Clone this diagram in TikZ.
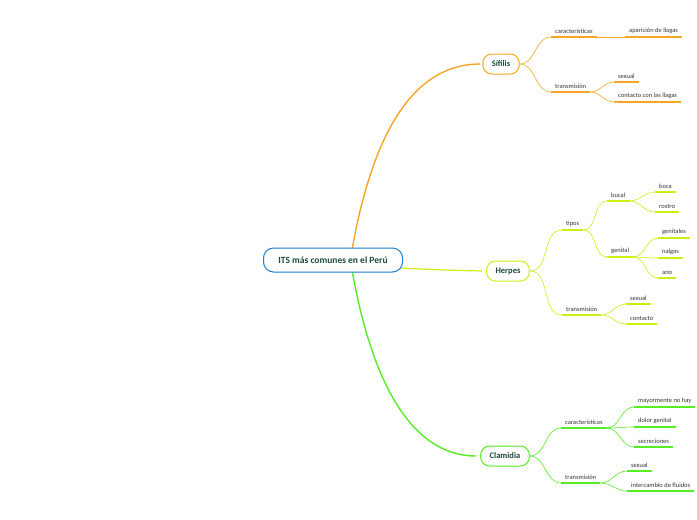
\documentclass[tikz,border=0pt]{standalone}
\usepackage{fontspec}
\setmainfont{Carlito}
\definecolor{cor}{HTML}{F5A623}
\definecolor{cye}{HTML}{CCEE11}
\definecolor{cgr}{HTML}{55EE22}
\definecolor{cbl}{HTML}{1A7FD0}
\definecolor{ctx}{HTML}{1E4A3C}
\tikzset{
 main/.style={draw, rounded corners=10pt, line width=1pt, fill=white, text=ctx, font=\fontsize{9.5}{12}\selectfont\bfseries, minimum height=24pt, inner xsep=10pt},
 topic/.style={draw, rounded corners=9pt, line width=1pt, fill=white, text=ctx, font=\fontsize{8.5}{10}\selectfont\bfseries, minimum height=20pt, inner xsep=9pt},
 leaf/.style={anchor=south west, inner xsep=4pt, inner ysep=3pt, font=\fontsize{6.5}{7}\selectfont, text=black!80},
 ul/.style={line width=1.5pt},
 br/.style={line width=0.6pt},
}
\newcommand{\leafn}[5]{% name, x, y, text, color
 \node[leaf] (#1) at (#2,#3) {#4};
 \draw[ul,#5] (#1.south west) -- (#1.south east);}
\begin{document}
\begin{tikzpicture}[x=1pt,y=-1pt]
\useasboundingbox (0,0) rectangle (697,520);
% connectors from center
\draw[cor,line width=1.4pt] (352,250) .. controls (375,120) and (420,64) .. (480,64);
\draw[cgr,line width=1.4pt] (352,270) .. controls (375,400) and (420,456) .. (476,456);
\draw[cye,line width=1.2pt] (400,268) .. controls (440,270) .. (482,271);
\node[main, draw=cbl, minimum width=139pt] (c) at (333,260) {ITS más comunes en el Perú};
\node[topic, draw=cor] (s) at (501,64) {Sífilis};
\node[topic, draw=cye] (h) at (508,271) {Herpes};
\node[topic, draw=cgr] (k) at (505,456) {Clamidia};
% Sifilis
\leafn{s1}{551}{37}{características}{cor}
\leafn{s11}{625}{37}{aparición de llagas\hspace{10pt}}{cor}
\leafn{s2}{551}{92}{transmisión\hspace{6pt}}{cor}
\leafn{s21}{614}{82}{sexual\hspace{6pt}}{cor}
\leafn{s22}{614}{102}{contacto con las llagas}{cor}
\foreach \a/\b in {s.east/s1.south west, s.east/s2.south west}
 \draw[br,cor] (\a) to[out=0,in=180] (\b);
\draw[br,cor] (s1.south east) -- (s11.south west);
\foreach \b in {s21,s22} \draw[br,cor] (s2.south east) to[out=0,in=180] (\b.south west);
% Herpes
\leafn{h1}{562}{230}{tipos\hspace{4pt}}{cye}
\leafn{h2}{562}{315}{transmisión\hspace{4pt}}{cye}
\leafn{h11}{607}{201}{bucal\hspace{6pt}}{cye}
\leafn{h12}{607}{257}{genital\hspace{6pt}}{cye}
\leafn{h111}{655}{192}{boca\hspace{4pt}}{cye}
\leafn{h112}{655}{212}{rostro\hspace{4pt}}{cye}
\leafn{h121}{658}{238}{genitales}{cye}
\leafn{h122}{658}{258}{nalgas\hspace{4pt}}{cye}
\leafn{h123}{658}{278}{ano\hspace{4pt}}{cye}
\leafn{h21}{626}{304}{sexual\hspace{4pt}}{cye}
\leafn{h22}{626}{324}{contacto\hspace{4pt}}{cye}
\foreach \b in {h1,h2} \draw[br,cye] (h.east) to[out=0,in=180] (\b.south west);
\foreach \b in {h11,h12} \draw[br,cye] (h1.south east) to[out=0,in=180] (\b.south west);
\foreach \b in {h111,h112} \draw[br,cye] (h11.south east) to[out=0,in=180] (\b.south west);
\foreach \b in {h121,h122,h123} \draw[br,cye] (h12.south east) to[out=0,in=180] (\b.south west);
\foreach \b in {h21,h22} \draw[br,cye] (h2.south east) to[out=0,in=180] (\b.south west);
% Clamidia
\leafn{k1}{561}{428}{características\hspace{4pt}}{cgr}
\leafn{k2}{561}{483}{transmisión\hspace{6pt}}{cgr}
\leafn{k11}{634}{407}{mayormente no hay}{cgr}
\leafn{k12}{634}{427}{dolor genital\hspace{4pt}}{cgr}
\leafn{k13}{634}{447}{secreciones\hspace{4pt}}{cgr}
\leafn{k21}{627}{471}{sexual\hspace{8pt}}{cgr}
\leafn{k22}{627}{491}{intercambio de fluidos}{cgr}
\foreach \b in {k1,k2} \draw[br,cgr] (k.east) to[out=0,in=180] (\b.south west);
\foreach \b in {k11,k12,k13} \draw[br,cgr] (k1.south east) to[out=0,in=180] (\b.south west);
\foreach \b in {k21,k22} \draw[br,cgr] (k2.south east) to[out=0,in=180] (\b.south west);
\end{tikzpicture}
\end{document}
